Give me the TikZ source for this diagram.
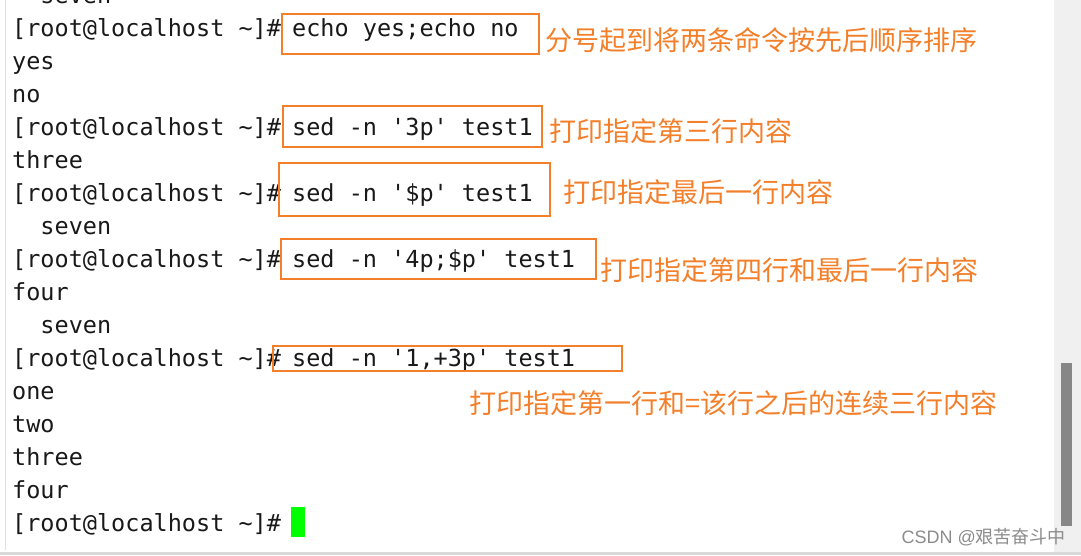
\documentclass[tikz,border=0pt]{standalone}
\usepackage{fontspec}
\setmonofont{DejaVu Sans Mono}
\newfontfamily\cjk{Noto Sans CJK SC}
\newfontfamily\wm{Liberation Sans}
\definecolor{org}{HTML}{F47F2A}
\begin{document}
\begin{tikzpicture}[x=1pt,y=-1pt,
  term/.style={anchor=base west,inner sep=0,font=\ttfamily\fontsize{23.5}{24}\selectfont,text=black!90},
  note/.style={anchor=west,inner sep=0,font=\cjk\fontsize{27}{28}\selectfont,text=org},
  hl/.style={draw=org,line width=2.5pt}]
\useasboundingbox (0,0) rectangle (1081,555);
\fill[white] (0,0) rectangle (1081,555);
\fill[black!6] (1054,0) rectangle (1081,555);
\fill[black!47] (1061,363) rectangle (1072,526);
\draw[black!15,line width=3pt] (0,553) -- (1081,553);
\draw[black!12,line width=1pt] (5,0) -- (5,550);
\node[term] (r0) at (12,3) {\ \ seven};
\node[term] (r1) at (12,36) {[root@localhost \textasciitilde]\#};
\node[term] (o1) at (12,69) {yes};
\node[term] (o2) at (12,102) {no};
\node[term] (r2) at (12,135) {[root@localhost \textasciitilde]\#};
\node[term] (o3) at (12,168) {three};
\node[term] (r3) at (12,201) {[root@localhost \textasciitilde]\#};
\node[term] (o4) at (12,234) {\ \ seven};
\node[term] (r4) at (12,267) {[root@localhost \textasciitilde]\#};
\node[term] (o5) at (12,300) {four};
\node[term] (o6) at (12,333) {\ \ seven};
\node[term] (r5) at (12,366) {[root@localhost \textasciitilde]\#};
\node[term] (o7) at (12,399) {one};
\node[term] (o8) at (12,432) {two};
\node[term] (o9) at (12,465) {three};
\node[term] (o10) at (12,498) {four};
\node[term] (r6) at (12,531) {[root@localhost \textasciitilde]\#};
\node[term] (c1) at (292,36) {echo yes;echo no};
\node[term] (c2) at (292,135) {sed -n '3p' test1};
\node[term] (c3) at (292,201) {sed -n '\$p' test1};
\node[term] (c4) at (292,267) {sed -n '4p;\$p' test1};
\node[term] (c5) at (292,366) {sed -n '1,+3p' test1};
\fill[green] (291,507) rectangle (305,537);
\draw[hl] (282,14) rectangle (539,54);
\draw[hl] (283,106) rectangle (542,147);
\draw[hl] (279,163) rectangle (550,216);
\draw[hl] (281,239) rectangle (596,279);
\draw[hl] (273,346) rectangle (622,371);
\node[note] (n1) at (545,40) {分号起到将两条命令按先后顺序排序};
\node[note] (n2) at (549,131) {打印指定第三行内容};
\node[note] (n3) at (563,192) {打印指定最后一行内容};
\node[note] (n4) at (600,270) {打印指定第四行和最后一行内容};
\node[note] (n5) at (469,403) {打印指定第一行和=该行之后的连续三行内容};
\node[anchor=east,inner sep=0,text=black!45,font=\cjk\fontsize{18}{19}\selectfont] (wm) at (1066,537) {{\wm CSDN @}艰苦奋斗中};
\end{tikzpicture}
\end{document}
